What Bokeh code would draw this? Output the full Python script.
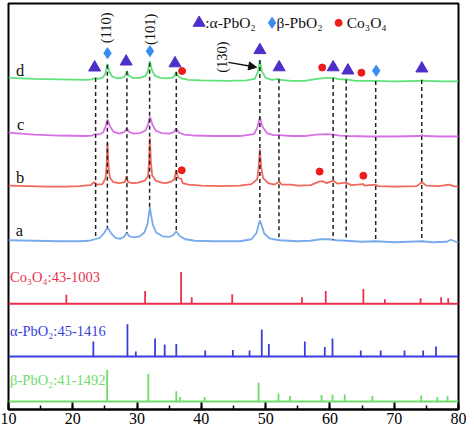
import numpy as np
from bokeh.plotting import figure
from bokeh.models import Range1d, SingleIntervalTicker, Arrow, NormalHead
from bokeh.core.properties import value
from bokeh.embed import file_html
from bokeh.resources import INLINE

# ---------------- measured XRD traces (2theta, stacked intensity, a.u.) ----------------
d_pts = [(10, 334), (14, 333), (18, 332.5), (22, 332), (23.0, 332.5), (23.5, 334), (24.0, 333),
         (24.7, 334.5), (25.1, 339), (25.4, 348), (25.7, 340), (26.2, 335), (27.0, 333.5),
         (27.9, 334.5), (28.2, 337), (28.4, 341), (28.7, 336.5), (29.3, 334), (30.5, 334),
         (31.3, 336), (31.7, 341), (32.0, 351), (32.3, 342), (32.8, 336), (33.6, 334),
         (34.5, 333.5), (35.4, 334), (35.8, 336), (36.1, 340), (36.4, 336), (36.9, 333.5),
         (38, 332), (40, 331.5), (44, 331), (47, 331.5), (48.3, 333), (48.8, 340), (49.1, 352),
         (49.4, 341), (50.0, 334), (51.0, 332), (52.0, 333), (52.3, 332), (54, 331), (56, 331),
         (58, 333), (59.5, 334), (60.5, 334), (61.5, 332.5), (62.5, 332.5), (64, 331), (67, 331),
         (70, 330.5), (74, 331), (74.3, 332), (74.6, 331), (78, 330.5), (80, 330.5)]
c_pts = [(10, 279), (14, 277), (18, 276), (22, 275.5), (23.0, 276), (23.5, 277.5), (24.0, 277),
         (24.7, 279), (25.1, 285), (25.4, 292), (25.8, 285), (26.3, 280), (27.2, 278), (28.0, 279.5),
         (28.4, 283), (28.8, 279.5), (29.5, 278), (30.5, 278.5), (31.3, 281), (31.7, 287), (32.0, 295),
         (32.4, 287), (32.9, 281), (33.8, 278.5), (35.0, 278), (35.7, 279.5), (36.1, 283), (36.5, 279),
         (37.3, 277), (39, 276), (42, 275.5), (46, 275.5), (48.2, 277.5), (48.7, 284), (49.1, 294.5),
         (49.5, 285), (50.2, 278.5), (51.2, 276.5), (52.1, 276.5), (54, 275.5), (56, 275.5),
         (57.8, 277), (59.5, 277.5), (60.5, 277), (61.5, 276), (63, 275.5), (66, 275), (70, 275),
         (74, 275.5), (74.3, 276.5), (74.7, 275.5), (77, 275), (80, 275)]
b_pts = [(10, 225.5), (13, 225), (16, 224.5), (19, 224.5), (21, 225), (22.8, 226), (23.3, 229),
         (23.7, 226.5), (24.6, 227), (25.1, 233), (25.25, 245), (25.4, 268.5), (25.55, 246),
         (25.75, 234), (26.3, 229), (27.2, 228), (28.1, 229), (28.35, 235), (28.6, 229), (29.3, 228),
         (30.2, 228.5), (31.2, 230.5), (31.7, 235), (31.85, 248), (32.0, 273.5), (32.15, 249),
         (32.35, 236), (32.9, 230.5), (33.8, 228.5), (34.5, 228), (35.3, 229.5), (35.8, 232),
         (36.1, 241), (36.4, 233), (36.85, 232.5), (37.1, 228), (38, 226.5), (40, 225.5), (43, 225),
         (46, 225.5), (47.8, 227), (48.7, 232), (48.9, 243), (49.1, 262), (49.3, 244), (49.6, 233),
         (50.4, 228), (51.3, 226.5), (52.1, 229.5), (52.5, 226.5), (54.0, 226.5), (55, 225.5),
         (57, 226), (58.3, 229.5), (58.8, 230), (59.5, 228), (60.5, 230.5), (61.2, 227.5),
         (62.5, 228.5), (63.3, 226), (65.2, 227), (65.4, 225.5), (67.1, 226.5), (67.5, 225),
         (70, 224.5), (73.5, 225), (74.3, 229), (75, 225.5), (77, 225), (78.5, 226.5), (79.3, 225),
         (80, 224.5)]
a_pts = [(10, 170.5), (14, 170), (18, 169.5), (21, 169.5), (22.5, 170), (23.4, 171.5), (24.2, 173),
         (24.9, 178), (25.4, 183.5), (25.9, 178), (26.6, 173), (27.4, 172), (28.0, 174), (28.4, 178),
         (28.8, 174.5), (29.5, 173.5), (30.4, 174.5), (31.1, 178), (31.6, 186), (31.85, 197),
         (32.0, 204), (32.15, 197), (32.45, 186), (33.0, 178), (34.0, 174.5), (35.0, 174),
         (35.6, 175.5), (36.1, 179.5), (36.6, 175), (37.5, 171.5), (39, 170), (42, 169.5),
         (46, 169.5), (47.8, 171.5), (48.6, 178), (48.9, 186), (49.1, 190.5), (49.35, 186),
         (49.8, 177), (50.6, 172.5), (51.7, 171), (52.2, 170.5), (55, 169.5), (57, 170),
         (58.5, 171.5), (59.8, 171.5), (61, 170.5), (62.5, 170), (65, 169), (67.1, 169.5),
         (70, 168.5), (74.3, 169.5), (76, 168.5), (78.2, 169), (78.8, 171), (79.4, 169.5), (80, 168)]

# ---------------- reference cards (2theta, relative stick height) ----------------
co3o4_pos = [19.0, 31.25, 36.85, 38.5, 44.8, 55.65, 59.35, 65.2, 68.55, 74.1, 77.3, 78.4]
co3o4_h = [9, 13, 32, 6.5, 9.5, 6.5, 13, 15, 4.5, 5.5, 6.5, 5.5]
alpha_pos = [23.2, 28.5, 29.8, 32.8, 34.3, 36.1, 40.6, 44.9, 47.5, 49.4, 50.5, 56.1, 59.2, 60.4,
             64.8, 67.9, 71.6, 74.5, 76.5]
alpha_h = [15, 32.5, 5, 18, 12, 12.5, 6, 6.5, 6, 27, 12.5, 15, 9.5, 18, 6, 6, 6, 6, 10]
beta_pos = [25.35, 31.75, 36.1, 36.7, 40.5, 48.9, 52.0, 53.8, 58.7, 60.4, 62.3, 66.6, 74.2, 76.7, 78.3]
beta_h = [32, 28, 10.5, 4.5, 4.5, 19, 8, 5.5, 6.5, 7, 7, 5.5, 6, 4.5, 5.5]
co3o4_base, alpha_base, beta_base = 106.5, 53.5, 8

# ---------------- phase identification ----------------
dash_pos = [23.55, 25.38, 28.42, 31.95, 36.1, 49.1, 52.07, 60.5, 62.53, 67.12, 74.28]
tri_x = [23.4, 28.3, 35.9, 49.1, 52.1, 60.5, 62.8, 74.3]
tri_y = [344.5, 350.5, 348.7, 362, 344.7, 344.7, 341.5, 343.5]
dia_x = [25.4, 32.0, 67.2]
dia_y = [359, 361, 341.3]
cir_x = [37.0, 58.8, 64.9, 36.95, 58.4, 65.2]
cir_y = [341, 344.5, 339.3, 241, 239.7, 235.5]

curve_names = ["d", "c", "b", "a"]
x_ticks_interval = 10

FONT = value("Liberation Serif")

p = figure(width=466, height=426, output_backend="svg", toolbar_location=None,
           x_range=Range1d(10, 80), y_range=Range1d(0, 409),
           min_border_left=8, min_border_right=8, min_border_top=3, min_border_bottom=0)
p.background_fill_color = "white"
p.border_fill_color = "white"
p.outline_line_color = "black"
p.outline_line_width = 2
p.grid.visible = False
p.yaxis.visible = False

xa = p.xaxis[0]
xa.ticker = SingleIntervalTicker(interval=x_ticks_interval, num_minor_ticks=2)
xa.axis_line_width = 2
xa.major_tick_in = 7
xa.major_tick_out = 0
xa.minor_tick_in = 4
xa.minor_tick_out = 0
xa.major_tick_line_width = 2
xa.minor_tick_line_width = 1.5
xa.major_label_text_font = "Liberation Serif"
xa.major_label_text_font_size = "16px"
xa.major_label_text_color = "black"
xa.major_label_standoff = 3

# curves
colors = {"d": "#5fe27a", "c": "#d870e6", "b": "#f0695c", "a": "#79aaec"}
pts = {"d": d_pts, "c": c_pts, "b": b_pts, "a": a_pts}
for nm in curve_names:
    xs, ys = zip(*pts[nm])
    p.line(list(xs), list(ys), line_color=colors[nm], line_width=1.8)

dx, dy = zip(*d_pts)
ax_, ay_ = zip(*a_pts)
top = np.interp(dash_pos, dx, dy)
bot = np.interp(dash_pos, ax_, ay_)
p.segment(x0=dash_pos, y0=top, x1=dash_pos, y1=bot, line_color="#222222",
          line_width=1.5, line_dash="4 3")

# reference sticks
cards = [(co3o4_pos, co3o4_h, co3o4_base, "#e8304e"),
         (alpha_pos, alpha_h, alpha_base, "#3a3fdc"),
         (beta_pos, beta_h, beta_base, "#6edc6a")]
for pos, h, base, col in cards:
    p.segment(x0=[10], y0=[base], x1=[80], y1=[base], line_color=col, line_width=2)
    p.segment(x0=pos, y0=[base] * len(pos), x1=pos, y1=[base + v for v in h],
              line_color=col, line_width=1.8)

# markers
p.scatter(tri_x, tri_y, marker="triangle", size=12, fill_color="#4f2fc9", line_color="#4f2fc9")
p.scatter(dia_x, dia_y, marker="diamond", size=11, fill_color="#3a8df0", line_color="#3a8df0")
p.scatter(cir_x, cir_y, marker="circle", size=7, fill_color="#ee1b1b", line_color="#ee1b1b")

# legend (manual)
p.scatter([39.66], [389.5], marker="triangle", size=12, fill_color="#4f2fc9", line_color="#4f2fc9")
p.scatter([51.0], [389.5], marker="diamond", size=11, fill_color="#3a8df0", line_color="#3a8df0")
p.scatter([61.35], [389.5], marker="circle", size=7, fill_color="#ee1b1b", line_color="#ee1b1b")
p.text(x=[40.6, 51.7, 62.6], y=[389.5, 389.5, 389.5], text=[":α-PbO₂", "β-PbO₂", "Co₃O₄"],
       text_font=FONT, text_font_size=value("15.5px"), text_color="#111111",
       text_align="left", text_baseline="middle")

# curve labels
p.text(x=[11.8, 11.9, 11.8, 11.7], y=[342, 287, 234, 180], text=curve_names,
       text_font=FONT, text_font_size=value("16.5px"), text_color="#111111",
       text_align="center", text_baseline="middle")

# card labels
p.text(x=[10.25], y=[133], text=["Co₃O₄:43-1003"], text_font=FONT, text_font_size=value("14.5px"),
       text_color="#e8304e", text_align="left", text_baseline="middle")
p.text(x=[10.25], y=[79.5], text=["α-PbO₂:45-1416"], text_font=FONT, text_font_size=value("14.5px"),
       text_color="#3a3fdc", text_align="left", text_baseline="middle")
p.text(x=[10.25], y=[29.5], text=["β-PbO₂:41-1492"], text_font=FONT, text_font_size=value("14.5px"),
       text_color="#6edc6a", text_align="left", text_baseline="middle")

# Miller indices
p.text(x=[25.2, 32.0, 43.23], y=[384.5, 383, 355], text=["(110)", "(101)", "(130)"],
       angle=np.pi / 2, text_font=FONT, text_font_size=value("14.5px"), text_color="#111111",
       text_align="center", text_baseline="middle")
p.add_layout(Arrow(x_start=44.2, y_start=349.7, x_end=48.6, y_end=344.7,
                   line_color="#111111", line_width=1.5,
                   end=NormalHead(size=8, fill_color="#111111", line_color="#111111")))

open("out.html", "w").write(file_html(p, INLINE))
